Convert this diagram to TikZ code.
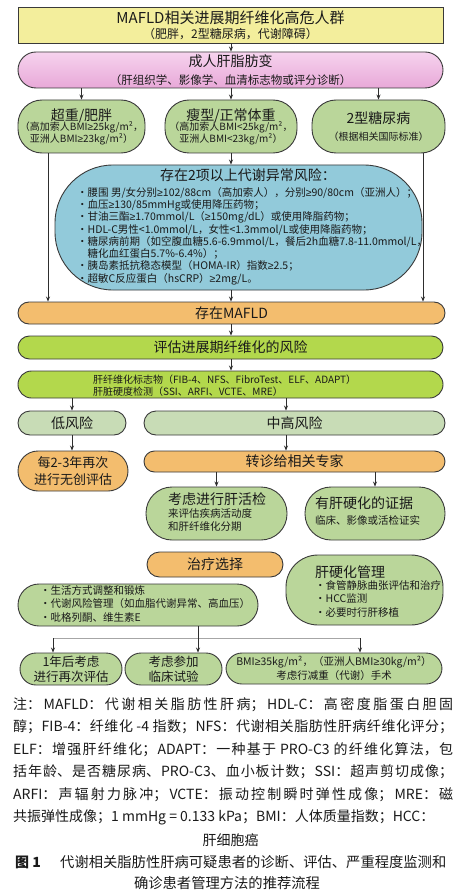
\documentclass[tikz,border=0pt]{standalone}
\usepackage{fontspec}
\setmainfont{Noto Sans CJK SC}
\newfontfamily\lsans{Liberation Sans}
\usetikzlibrary{arrows.meta,calc}
\XeTeXlinebreaklocale "zh"
\XeTeXlinebreakskip=0pt plus 3pt minus 0.3pt
\newcommand\fsz[2]{\fontsize{#1pt}{#2pt}\selectfont}
\newcommand\gee{{\lsans ≥}}
\definecolor{bord}{HTML}{3A3A3A}
\definecolor{txt}{HTML}{1A1A1A}
\definecolor{lnc}{HTML}{2E2E2E}
\definecolor{ylw}{HTML}{F3EE9C}
\definecolor{pinkL}{HTML}{F6D3EE}
\definecolor{pinkD}{HTML}{E8A8D8}
\definecolor{grnL}{HTML}{E6F1D8}
\definecolor{grnD}{HTML}{BAD69A}
\definecolor{bluL}{HTML}{CBE9F1}
\definecolor{bluD}{HTML}{92CADA}
\definecolor{orgL}{HTML}{FCE5B8}
\definecolor{orgD}{HTML}{F3BD6E}
\definecolor{limL}{HTML}{DDEFA8}
\definecolor{limD}{HTML}{B3D84C}
\definecolor{palL}{HTML}{EEF5E7}
\definecolor{palD}{HTML}{C8DCB6}
\begin{document}
\begin{tikzpicture}[x=1pt,y=-1pt,
  box/.style={draw=bord, line width=0.9pt, inner sep=0pt, text=txt, align=center},
  grnbox/.style={box, top color=grnD, middle color=grnL, bottom color=grnD},
  orgbox/.style={box, top color=orgD, middle color=orgL, bottom color=orgD},
  limbox/.style={box, top color=limD, middle color=limL, bottom color=limD},
  palbox/.style={box, top color=palD, middle color=palL, bottom color=palD},
  lbl/.style={inner sep=0pt, text=txt, align=left},
  arr/.style={draw=lnc, line width=0.7pt, -{Stealth[length=5pt,width=4pt]}},
  ln/.style={draw=lnc, line width=0.7pt},
  gln/.style={draw=gray!70, line width=0.9pt}]
\useasboundingbox[fill=white] (0,0) rectangle (464,896);

% top
\node[box, fill=ylw, minimum width=425pt, minimum height=36pt, font=\fsz{12}{15}] (top) at (230.5,25)
  {{\fsz{15}{18}MAFLD相关进展期纤维化高危人群}\\（肥胖，2型糖尿病，代谢障碍）};
\node[box, rounded corners=18pt, top color=pinkL, bottom color=pinkD, minimum width=425pt, minimum height=36pt, font=\fsz{11.5}{18}] (pink) at (230.5,70)
  {{\fsz{14}{16}成人肝脂肪变}\\（肝组织学、影像学、血清标志物或评分诊断）};

\node[grnbox, rounded corners=24pt, minimum width=127pt, minimum height=53pt, font=\fsz{10}{11.7}] (g1) at (81.5,126.5)
  {{\fsz{14}{16}超重/肥胖}\\[-1.6pt]（高加索人BMI\gee25kg/m²，\\亚洲人BMI\gee23kg/m²）};
\node[grnbox, rounded corners=24pt, minimum width=132pt, minimum height=53pt, font=\fsz{10}{11.7}] (g2) at (231,126.5)
  {{\fsz{14}{16}瘦型/正常体重}\\[-1.6pt]（高加索人BMI<25kg/m²，\\亚洲人BMI<23kg/m²）};
\node[grnbox, rounded corners=24pt, minimum width=133pt, minimum height=53pt, font=\fsz{10}{17}] (g3) at (378.5,126.5)
  {{\fsz{14}{16}2型糖尿病}\\（根据相关国际标准）};

% risk box
\node[box, rounded corners=58pt, top color=bluD, middle color=bluL, bottom color=bluD, minimum width=367pt, minimum height=125pt] (blue) at (238.5,227.5) {};
\node[lbl, font=\fsz{14}{16}] (risk) at (248,175) {存在2项以上代谢异常风险：};
\node[lbl, anchor=north west, font=\fsz{10.5}{12.3}] (risklist) at (77,187)
  {•腰围 男/女分别\gee102/88cm（高加索人），分别\gee90/80cm（亚洲人）；\\
   •血压\gee130/85mmHg或使用降压药物；\\
   •甘油三酯\gee1.70mmol/L（\gee150mg/dL）或使用降脂药物；\\
   •HDL-C男性<1.0mmol/L，女性<1.3mmol/L或使用降脂药物；\\
   •糖尿病前期（如空腹血糖5.6-6.9mmol/L，餐后2h血糖7.8-11.0mmol/L，\\
   \phantom{•}糖化血红蛋白5.7\%-6.4\%）；\\
   •胰岛素抵抗稳态模型（HOMA-IR）指数\gee2.5；\\
   •超敏C反应蛋白（hsCRP）\gee2mg/L。};

\node[orgbox, rounded corners=11pt, minimum width=427pt, minimum height=22pt, font=\fsz{14}{16}] (mafld) at (231.5,313) {存在MAFLD};
\node[limbox, rounded corners=11.5pt, minimum width=425pt, minimum height=23pt, font=\fsz{14}{16}] (assess) at (230.5,347.5) {评估进展期纤维化的风险};
\node[limbox, rounded corners=13.5pt, minimum width=425pt, minimum height=27pt] (markers) at (230.5,384.5) {};
\node[lbl, anchor=west, font=\fsz{10}{12}] (markertxt) at (93,386)
  {肝纤维化标志物（FIB-4、NFS、FibroTest、ELF、ADAPT）\\肝脏硬度检测（SSI、ARFI、VCTE、MRE）};

\node[palbox, rounded corners=12pt, minimum width=108pt, minimum height=24pt, font=\fsz{14}{16}] (low) at (72,423) {低风险};
\node[palbox, rounded corners=12pt, minimum width=301pt, minimum height=24pt, font=\fsz{14}{16}] (midhigh) at (294.5,423) {中高风险};

\node[orgbox, rounded corners=20pt, minimum width=110pt, minimum height=40pt, font=\fsz{13}{17}] (every) at (73,471) {每2-3年再次\\进行无创评估};
\node[orgbox, rounded corners=10.5pt, minimum width=301pt, minimum height=21pt, font=\fsz{14}{16}] (refer) at (294.5,461.5) {转诊给相关专家};

\node[grnbox, rounded corners=26pt, minimum width=141pt, minimum height=53pt] (biopsy) at (216.5,513.5) {};
\node[lbl, anchor=north west, font=\fsz{10.5}{13}] (biopsytxt) at (168,492.5)
  {{\fsz{14}{16}考虑进行肝活检}\\来评估疾病活动度\\和肝纤维化分期};
\node[grnbox, rounded corners=26pt, minimum width=140pt, minimum height=53pt] (cirrh) at (375,513.5) {};
\node[lbl, anchor=north west, font=\fsz{10.5}{15.7}] (cirrhtxt) at (315,496.5)
  {{\fsz{14}{16}有肝硬化的证据}\\临床、影像或活检证实};

\node[orgbox, rounded corners=12.5pt, minimum width=136pt, minimum height=25pt, font=\fsz{14}{16}] (treat) at (215,564.5) {治疗选择};
\node[grnbox, rounded corners=32pt, minimum width=157pt, minimum height=70pt] (cmgmt) at (364.5,590) {};
\node[lbl, anchor=north west, font=\fsz{10.5}{13.5}] (cmgmttxt) at (315,565.5)
  {{\fsz{14}{16}肝硬化管理}\\[-1.8pt]•食管静脉曲张评估和治疗\\•HCC监测\\•必要时行肝移植};
\node[grnbox, rounded corners=21pt, minimum width=240pt, minimum height=42pt] (tbullets) at (138,605) {};
\node[lbl, anchor=north west, font=\fsz{10.5}{13.5}] (tbtxt) at (40,585)
  {•生活方式调整和锻炼\\•代谢风险管理（如血脂代谢异常、高血压）\\•吡格列酮、维生素E};

\node[grnbox, rounded corners=16pt, minimum width=102pt, minimum height=32pt, font=\fsz{12.5}{14.5}] (A) at (71,669) {1年后考虑\\进行再次评估};
\node[grnbox, rounded corners=16pt, minimum width=97pt, minimum height=32pt, font=\fsz{12.5}{14.5}] (B) at (173.5,669) {考虑参加\\临床试验};
\node[grnbox, rounded corners=16pt, minimum width=216pt, minimum height=31pt, font=\fsz{10.5}{14}] (C) at (334,668.5) {BMI\gee35kg/m²，（亚洲人BMI\gee30kg/m²）\\考虑行减重（代谢）手术};

% connectors
\draw[arr] (top.south -| g2.north) -- (pink.north -| g2.north);
\draw[arr] (pink.south -| g1.north) -- (g1.north);
\draw[arr] (pink.south -| g2.north) -- (g2.north);
\draw[arr] (pink.south -| g3.north) -- (g3.north);
\draw[arr] ([xshift=-33.5pt]g1.south) -- ([xshift=-33.5pt]g1.south |- mafld.north);
\draw[arr] (g2.south) -- (g2.south |- blue.north);
\draw[arr] ([xshift=44.5pt]g3.south) -- ([xshift=44.5pt]g3.south |- mafld.north);
\draw[arr] (blue.south -| g2.south) -- (mafld.north -| g2.south);
\draw[arr] (mafld.south -| g2.south) -- (assess.north -| g2.south);
\draw[arr] (assess.south -| g2.south) -- (markers.north -| g2.south);
\draw[arr] (markers.south -| low.north) -- (low.north);
\draw[arr] ([xshift=-8.5pt]midhigh.north |- markers.south) -- ([xshift=-8.5pt]midhigh.north);
\draw[arr] (low.south) -- (low.south |- every.north);
\draw[arr] ([xshift=-8.5pt]midhigh.south) -- ([xshift=-8.5pt]refer.north);
\draw[arr] (refer.south -| biopsy.north) -- (biopsy.north);
\draw[arr] (refer.south -| cirrh.north) -- (cirrh.north);
\coordinate (jn) at (198,638);
\coordinate (jl) at (53,638);
\coordinate (jr) at (360,638);
\draw[gln] (jl) -- (jr);
\draw[ln] (tbullets.south -| jn) -- (jn);
\draw[arr] (jn) -- (jn |- B.north);
\draw[arr] (jl) -- (jl |- A.north);
\draw[arr] (jr) -- (jr |- C.north);

% note
\node[anchor=north west, text width=440pt, align=justify, inner sep=0pt, text=txt, font=\fsz{14}{22.5}] (note) at (13,697)
  {\parfillskip=0pt
   注：MAFLD：代谢相关脂肪性肝病；HDL-C：高密度脂蛋白胆固\linebreak
   醇；FIB-4：纤维化 -4 指数；NFS：代谢相关脂肪性肝病纤维化评分；\linebreak
   ELF：增强肝纤维化；ADAPT：一种基于 PRO-C3 的纤维化算法，包\linebreak
   括年龄、是否糖尿病、PRO-C3、血小板计数；SSI：超声剪切成像；\linebreak
   ARFI：声辐射力脉冲；VCTE：振动控制瞬时弹性成像；MRE：磁\linebreak
   共振弹性成像；1 mmHg = 0.133 kPa；BMI：人体质量指数；HCC：};
\node[lbl, font=\fsz{14}{16}] (noteend) at (230.5,840) {肝细胞癌};
\node[lbl, anchor=west, font=\fsz{14}{16}\bfseries] (fig) at (15,862) {图 1};
\node[lbl, anchor=west, font=\fsz{14.3}{16}] (cap1) at (60,862) {代谢相关脂肪性肝病可疑患者的诊断、评估、严重程度监测和};
\node[lbl, font=\fsz{14.3}{16}] (cap2) at (227,883) {确诊患者管理方法的推荐流程};
\end{tikzpicture}
\end{document}
